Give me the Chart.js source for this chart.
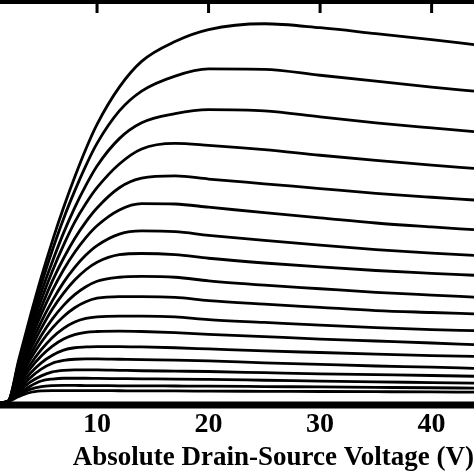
<!DOCTYPE html>
<html><head><meta charset="utf-8">
<script src="https://cdn.jsdelivr.net/npm/chart.js@4"></script>
<style>html,body{margin:0;padding:0;background:#fff}#w{width:474px;height:474px}</style>
</head><body><div id="w"><canvas id="c"></canvas></div>
<script>
const voltages = [1.3,2,3,4,5,6,7,8,9,10,12,14,17,20,25,30,35,40,43.8];
const xTicks = [10,20,30,40];
const xTitle = 'Absolute Drain-Source Voltage (V)';
const c1 = [0.3,0.6,11.4,22,32,41.2,49.6,57.3,64.4,70.6,80,86.5,91.5,94.5,96,95,93.5,92,90.75];
const c2 = [0.3,0.6,10.8,20.9,30.2,38.9,46.8,53.8,60.2,65.8,74,79,82.8,84.6,84.5,83,81.5,80,79];
const c3 = [0.3,0.6,10.1,19.5,28.2,36,43.2,49.6,55.2,60.1,67,71,73.3,74.3,74,72.5,71,69.7,68.75];
const c4 = [0.3,0.6,9.5,18.2,26.3,33.6,40.1,45.9,50.6,54.6,60.6,64.4,65.8,65.3,64.2,62.8,61.5,60.3,59.5];
const c5 = [0.3,0.6,8.9,17,24.4,31.1,36.8,41.8,46,49.5,54.6,57,57.6,56.8,55.6,54.4,53.2,52.2,51.5];
const c6 = [0.3,0.6,8.4,16,22.7,28.7,33.9,38.3,42,45,49,50.6,50.5,49.7,48.3,47,45.7,44.7,44];
const c7 = [0.3,0.6,7.7,14.7,20.8,26.1,30.7,34.5,37.6,40,42.9,43.7,43.5,42.6,41.3,40.1,39,38.1,37.5];
const c8 = [0.3,0.6,7.2,13.6,19.1,24,28,31.3,33.9,35.8,37.7,38,37.7,36.8,35.6,34.6,33.7,33,32.5];
const c9 = [0.3,0.6,6.6,12.3,17.3,21.5,24.9,27.6,29.6,31,32,32.2,32,31.1,30,29.1,28.2,27.5,27];
const c10 = [0.3,0.6,6,11.2,15.6,19.2,22.1,24.3,25.8,26.7,27.1,27.1,26.9,26.1,25.2,24.4,23.6,23.1,22.75];
const c11 = [0.3,0.6,5.4,9.9,13.7,16.8,19.1,20.7,21.6,22,22.2,22.2,22,21.3,20.6,19.9,19.3,18.8,18.5];
const c12 = [0.3,0.6,4.9,8.9,12.1,14.6,16.4,17.5,18.1,18.3,18.4,18.3,18,17.6,17,16.4,15.9,15.4,15];
const c13 = [0.3,0.6,4.3,7.7,10.4,12.3,13.6,14.2,14.4,14.5,14.5,14.4,14.2,13.9,13.4,13,12.6,12.2,12];
const c14 = [0.3,0.6,3.7,6.6,8.8,10.3,11,11.3,11.4,11.4,11.3,11.2,11.1,10.9,10.4,10,9.6,9.3,9];
const c15 = [0.3,0.6,3.2,5.5,7.1,8.1,8.5,8.6,8.6,8.6,8.5,8.4,8.3,8.2,7.9,7.6,7.4,7.2,7];
const c16 = [0.3,0.6,2.7,4.5,5.8,6.3,6.5,6.5,6.5,6.45,6.4,6.35,6.3,6.2,6,5.8,5.6,5.4,5.25];
const c17 = [0.3,0.6,2.3,3.7,4.4,4.65,4.7,4.7,4.65,4.65,4.6,4.6,4.55,4.5,4.4,4.3,4.2,4.1,4];
const c18 = [0.3,0.6,1.9,2.9,3.3,3.4,3.4,3.4,3.4,3.4,3.35,3.3,3.3,3.25,3.2,3.15,3.1,3.05,3];
const curves = [c1,c2,c3,c4,c5,c6,c7,c8,c9,c10,c11,c12,c13,c14,c15,c16,c17,c18];

const frame = {
  id:'frame',
  afterDraw(ch){
    const {ctx, chartArea:a, scales:{x}} = ch;
    ctx.save();
    ctx.strokeStyle='#000';
    ctx.lineWidth=4;
    ctx.beginPath(); ctx.moveTo(a.left, a.top+2); ctx.lineTo(a.right, a.top+2); ctx.stroke();
    ctx.lineWidth=3;
    xTicks.forEach(v=>{const p=x.getPixelForValue(v); ctx.beginPath(); ctx.moveTo(p,a.top); ctx.lineTo(p,a.top+13); ctx.stroke();});
    ctx.lineWidth=7;
    ctx.beginPath(); ctx.moveTo(a.left, a.bottom+1); ctx.lineTo(a.right, a.bottom+1); ctx.stroke();
    ctx.restore();
  }
};

new Chart(document.getElementById('c'), {
  type:'line',
  data:{datasets: curves.map(cv=>({data: cv.map((y,i)=>({x:voltages[i], y})), borderColor:'#000', borderWidth:2.8, pointRadius:0, cubicInterpolationMode:'monotone', fill:false}))},
  options:{
    responsive:true, maintainAspectRatio:false, animation:false,
    plugins:{legend:{display:false}, tooltip:{enabled:false}},
    layout:{padding:{left:0,right:0,top:0,bottom:0}},
    scales:{
      x:{type:'linear', min:1.3, max:43.8, afterBuildTicks(s){s.ticks = xTicks.map(v=>({value:v}));},
        grid:{drawOnChartArea:false, drawTicks:false}, border:{display:false},
        ticks:{color:'#000', padding:4, font:{family:'Liberation Serif', weight:'bold', size:28}},
        title:{display:true, align:'end', text:xTitle, color:'#000', padding:{top:-4,bottom:0}, font:{family:'Liberation Serif', weight:'bold', size:27}}},
      y:{display:false, min:0, max:102}
    }
  },
  plugins:[frame]
});
</script></body></html>
